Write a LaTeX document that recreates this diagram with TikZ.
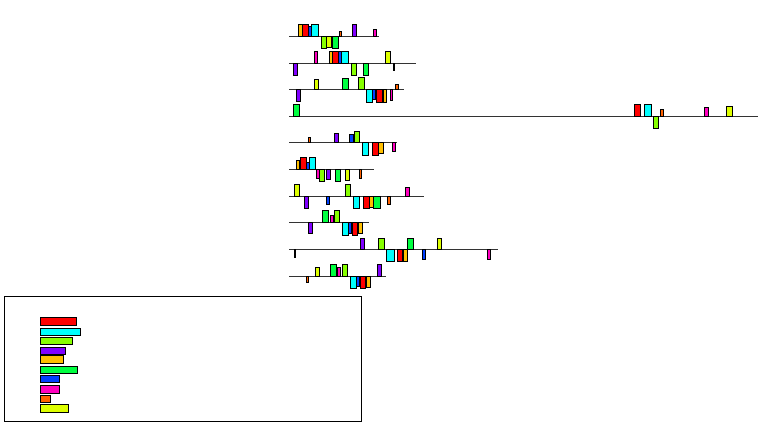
\documentclass[tikz,border=0pt]{standalone}
\usepackage{tikz}
\definecolor{fred}{rgb}{1.0, 0.0, 0.0}
\definecolor{fcyan}{rgb}{0.0, 1.0, 1.0}
\definecolor{flime}{rgb}{0.53, 1.0, 0.0}
\definecolor{fviolet}{rgb}{0.5, 0.0, 1.0}
\definecolor{famber}{rgb}{1.0, 0.75, 0.0}
\definecolor{fgreen}{rgb}{0.0, 1.0, 0.25}
\definecolor{fblue}{rgb}{0.0, 0.25, 1.0}
\definecolor{fpink}{rgb}{1.0, 0.0, 0.75}
\definecolor{forange}{rgb}{1.0, 0.38, 0.0}
\definecolor{fyellow}{rgb}{0.87, 1.0, 0.0}
\begin{document}
\begin{tikzpicture}[x=1pt,y=-1pt]
\tikzset{feat/.style={draw=black,line width=0.7pt,fill=#1},
         track/.style={draw=black!80,line width=0.8pt}}
\useasboundingbox (0,0) rectangle (768,426);
% row 1
    \draw[track] (289,36) -- (379,36);
  \foreach \xa/\xb/\ya/\yb/\c in {298.3/302/24.7/36/famber, 302.3/308/24.7/36/fred,
      308.3/311/26.5/36/fblue, 311.3/318.3/24.7/36/fcyan, 321.3/326.3/36/48.3/flime,
      326.7/331.7/36/47.3/fyellow, 332.3/338.3/36/48.3/fgreen, 339.3/341.3/31.3/36/forange,
      352.7/356.3/24.3/36/fviolet, 373.7/376.7/29.3/36/fpink}
    \draw[feat=\c] (\xa,\ya) rectangle (\xb,\yb);
% row 2
    \draw[track] (289,63) -- (416,63);
  \foreach \xa/\xb/\ya/\yb/\c in {314.3/317.7/51.3/63/fpink, 329/332.3/51.3/63/famber,
      332.7/338.3/51.3/63/fred, 338.7/341.3/51.3/63/fblue, 341.7/348.7/51.3/63/fcyan,
      385.3/390.3/51.3/63/fyellow, 293.3/297.7/63/75.7/fviolet, 351.3/356.3/63/75.7/flime,
      363/368.7/63/75.7/fgreen, 393.5/394.5/63/70/black}
    \draw[feat=\c] (\xa,\ya) rectangle (\xb,\yb);
% row 3
    \draw[track] (289,89.7) -- (404,89.7);
  \foreach \xa/\xb/\ya/\yb/\c in {314/318.3/79.7/89.7/fyellow, 342.3/348.7/78.3/89.7/fgreen,
      358.3/364/77.3/89.7/flime, 395.7/398.3/84.7/89.7/forange, 296.3/300.3/89.7/101/fviolet,
      366.3/372.3/89.7/102.3/fcyan, 372.7/375.7/89.7/99.3/fblue, 376.7/382.7/89.7/102.3/fred,
      383/386.3/89.7/102.3/famber, 390/392.7/89.7/100/fpink}
    \draw[feat=\c] (\xa,\ya) rectangle (\xb,\yb);
% row 4
    \draw[track] (289,116) -- (757.7,116);
  \foreach \xa/\xb/\ya/\yb/\c in {293.3/299.7/104.7/116/fgreen, 634/640.7/104.7/116/fred,
      644.3/651/104.7/116/fcyan, 653.3/658.7/116/128.3/flime, 660.3/663/109.3/116/forange,
      704.7/708.3/107.7/116/fpink, 726.7/732.3/106/116/fyellow}
    \draw[feat=\c] (\xa,\ya) rectangle (\xb,\yb);
% row 5
    \draw[track] (289,142.7) -- (397,142.7);
  \foreach \xa/\xb/\ya/\yb/\c in {308/310.3/137/142.7/forange, 334.3/338.7/133/142.7/fviolet,
      349.3/353.7/134.3/142.7/fblue, 354.3/359.7/131/142.7/flime, 362.7/368.7/142.7/155.3/fcyan,
      372.7/378/142.7/155.3/fred, 378.3/383/142.7/153.3/famber, 392/395.3/142.7/151/fpink}
    \draw[feat=\c] (\xa,\ya) rectangle (\xb,\yb);
% row 6
    \draw[track] (289,169) -- (374,169);
  \foreach \xa/\xb/\ya/\yb/\c in {296.3/299.7/160.3/169/famber, 300/306.3/157.3/169/fred,
      306.7/309.7/162.3/169/fblue, 309.7/315.7/157.3/169/fcyan, 316.7/319.3/169/178.3/fpink,
      319.7/324.7/169/181.3/flime, 326.3/330.3/169/179.7/fviolet, 335/340.7/169/181.3/fgreen,
      345.3/349.3/169/180.3/fyellow, 359/361/169/178/forange}
    \draw[feat=\c] (\xa,\ya) rectangle (\xb,\yb);
% row 7
    \draw[track] (289,196.3) -- (424.3,196.3);
  \foreach \xa/\xb/\ya/\yb/\c in {294/299.3/184.3/196.3/fyellow, 345.3/350.7/184.3/196.3/flime,
      405.7/409.3/187.3/196.3/fpink, 304/308.3/196.3/208.7/fviolet, 326/329.3/196.3/204.7/fblue,
      353.3/359.7/196.3/208.7/fcyan, 363/369/196.3/208.7/fred, 369.3/373.3/196.3/207.3/famber,
      373.3/380/196.3/208.7/fgreen, 387.3/390/196.3/204/forange}
    \draw[feat=\c] (\xa,\ya) rectangle (\xb,\yb);
% row 8
    \draw[track] (289,222.7) -- (369,222.7);
  \foreach \xa/\xb/\ya/\yb/\c in {322.3/328.3/210.7/222.7/fgreen, 330/333.7/215.7/222.7/fpink,
      334.3/339.3/210.7/222.7/flime, 308/312.3/222.7/233.7/fviolet, 342.7/348.3/222.7/235/fcyan,
      348.7/351/222.7/233.7/fblue, 352.3/357.7/222.7/235/fred, 358/362.3/222.7/233.7/famber}
    \draw[feat=\c] (\xa,\ya) rectangle (\xb,\yb);
% row 9
    \draw[track] (289,249.7) -- (498.3,249.7);
  \foreach \xa/\xb/\ya/\yb/\c in {360.7/364.7/238/249.7/fviolet, 378.7/384/238/249.7/flime,
      407/413.3/238/249.7/fgreen, 437/441.7/238/249.7/fyellow, 294.2/295.2/249.7/257.3/black,
      386.7/394.3/249.7/261/fcyan, 397/402.7/249.7/261/fred, 403/407/249.7/261/famber,
      422/425/249.7/259.3/fblue, 487.7/490.7/249.7/259.3/fpink}
    \draw[feat=\c] (\xa,\ya) rectangle (\xb,\yb);
% row 10
    \draw[track] (289,276.3) -- (386,276.3);
  \foreach \xa/\xb/\ya/\yb/\c in {315.3/319.3/267.3/276.3/fyellow, 330.3/336.7/264/276.3/fgreen,
      337/340.7/267.3/276.3/fpink, 342.3/347.3/264/276.3/flime, 377/381/264/276.3/fviolet,
      306/308.3/276.3/282.3/forange, 350.3/356.3/276.3/288/fcyan, 356.7/359.3/276.3/286.7/fblue,
      360.3/365.7/276.3/288/fred, 366/370/276.3/287.3/famber}
    \draw[feat=\c] (\xa,\ya) rectangle (\xb,\yb);
% legend
    \draw[line width=0.8pt] (4.7,296) rectangle (361,421);
  \foreach \xb/\ya/\yb/\c in {76/317.7/325.7/fred, 80/328.3/335.7/fcyan, 72/337/344.3/flime,
      65.7/347/354.3/fviolet, 63.7/355.7/363.3/famber, 77/366.3/373.7/fgreen,
      59.7/375/382.7/fblue, 59.7/385.7/393/fpink, 50.7/395.3/402/forange, 68/404.3/412/fyellow}
    \draw[feat=\c] (40.3,\ya) rectangle (\xb,\yb);
\end{tikzpicture}
\end{document}
